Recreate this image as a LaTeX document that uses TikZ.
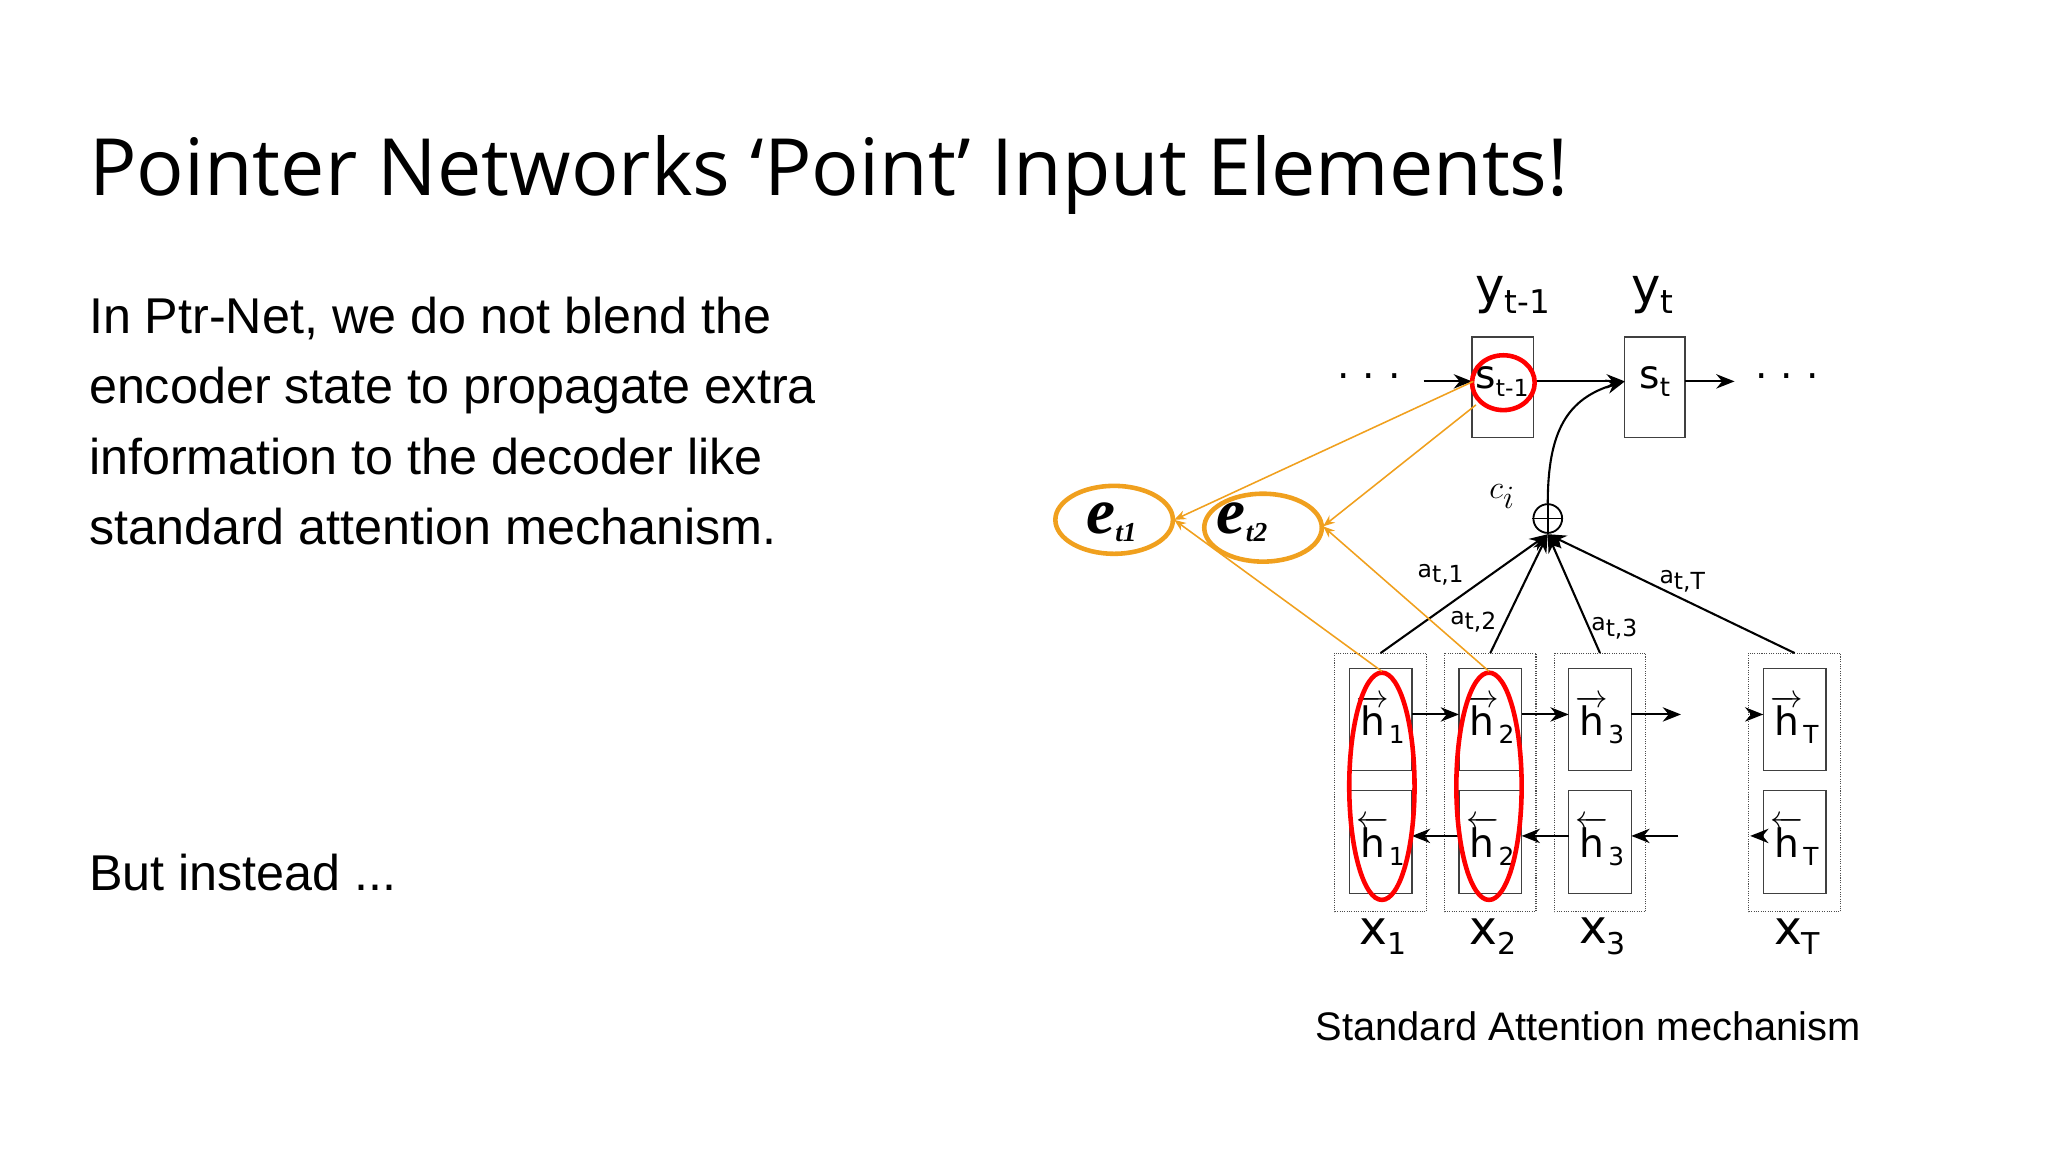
\documentclass[tikz,border=0pt]{standalone}
\usepackage{fontspec}
\setmainfont{Liberation Sans}
\newfontfamily\titlef{Open Sans}
\newfontfamily\djf{DejaVu Sans}
\usetikzlibrary{arrows.meta}
\definecolor{org}{RGB}{240,160,30}
\begin{document}
\begin{tikzpicture}[x=1pt,y=-1pt,
 box/.style={draw=black!75,line width=1pt,inner sep=0},
 dbox/.style={draw=black!70,densely dotted,line width=0.8pt},
 lab/.style={font=\djf\fontsize{30}{32}\selectfont,inner sep=0},
 small/.style={font=\djf\fontsize{18}{20}\selectfont,inner sep=0},
 arr/.style={-{Stealth[length=14pt,width=11pt]},line width=1.6pt},
 oarr/.style={org,line width=1.2pt,-{Stealth[length=9pt,width=7pt]}},
 body/.style={anchor=base west,inner sep=0,font=\fontsize{38.5}{42}\selectfont}]
\useasboundingbox (0,0) rectangle (1568,882);
\node[anchor=base west,inner sep=0,font=\titlef\fontsize{60.5}{64}\selectfont] (title) at (68,150) {Pointer Networks ‘Point’ Input Elements!};
\node[body] (l1) at (68,255) {In Ptr-Net, we do not blend the};
\node[body] (l2) at (68,309) {encoder state to propagate extra};
\node[body] (l3) at (68,363) {information to the decoder like};
\node[body] (l4) at (68,417) {standard attention mechanism.};
\node[body] (l5) at (68,682) {But instead ...};
\node[anchor=base,inner sep=0,font=\fontsize{30.5}{32}\selectfont] (cap) at (1216,797) {Standard Attention mechanism};
% decoder
\draw[box] (1127,258) rectangle (1174,335);
\draw[box] (1244,258) rectangle (1290,335);
\coordinate (s1l) at (1127,292); \coordinate (s1r) at (1174,292);
\coordinate (s2l) at (1244,292); \coordinate (s2r) at (1290,292);
\node[lab] (s1) at (1150,292) {s\raisebox{-6pt}{\fontsize{18}{20}\selectfont t-1}};
\node[lab] (s2) at (1267,292) {s\raisebox{-6pt}{\fontsize{20}{22}\selectfont t}};
\node[lab,font=\djf\fontsize{38}{40}\selectfont] (y1) at (1158,226) {y\raisebox{-8pt}{\fontsize{25}{27}\selectfont t-1}};
\node[lab,font=\djf\fontsize{38}{40}\selectfont] (y2) at (1265,226) {y\raisebox{-8pt}{\fontsize{25}{27}\selectfont t}};
\node[lab] (dl) at (1048,288) {.\hspace{10pt}.\hspace{10pt}.};
\node[lab] (dr) at (1368,288) {.\hspace{10pt}.\hspace{10pt}.};
\coordinate (al) at (1090,292); \coordinate (ar) at (1328,292);
\draw[arr] (al) -- (s1l);
\draw[arr] (s1r) -- (s2l);
\draw[arr] (s2r) -- (ar);
\draw[red,line width=3.5pt] (1151,293) ellipse (24 and 21);
% plus
\node[circle,draw,line width=1.4pt,minimum size=22pt,inner sep=0] (p) at (1185,397) {};
\draw[line width=1.4pt] (p.north) -- (p.south) (p.west) -- (p.east);
\node[inner sep=0,font=\fontsize{34}{36}\selectfont] (ci) at (1150,380) {$c_i$};
\draw[arr] (p.north) .. controls (1185,330) and (1200,305) .. (s2l);
% encoder
\foreach \n/\x/\s in {1/1057/1,2/1141/2,3/1225/3,4/1374/T}{
  \draw[dbox] (\x-35,500) rectangle (\x+35,698);
  \draw[box] (\x-24,512) rectangle (\x+24,590);
  \draw[box] (\x-24,605) rectangle (\x+24,684);
  \coordinate (f\n l) at (\x-24,547); \coordinate (f\n r) at (\x+24,547);
  \coordinate (b\n l) at (\x-24,640); \coordinate (b\n r) at (\x+24,640);
  \coordinate (t\n) at (\x,500);
  \node[lab] (hf\n) at (\x,551) {$\overrightarrow{\mbox{h}}$\raisebox{-6pt}{\fontsize{19}{20}\selectfont\s}};
  \node[lab] (hb\n) at (\x,644) {$\overleftarrow{\mbox{h}}$\raisebox{-6pt}{\fontsize{19}{20}\selectfont\s}};
  \node[lab,font=\djf\fontsize{36}{38}\selectfont] (x\n) at (\x+2,717) {x\raisebox{-8pt}{\fontsize{23}{24}\selectfont\s}};
}
\coordinate (fe) at (1287,547); \coordinate (fs) at (1340,547);
\coordinate (be) at (1285,640); \coordinate (bs) at (1340,640);
\draw[arr] (f1r) -- (f2l); \draw[arr] (f2r) -- (f3l); \draw[arr] (f3r) -- (fe); \draw[arr] (fs) -- (f4l);
\draw[arr] (b2l) -- (b1r); \draw[arr] (b3l) -- (b2r); \draw[arr] (be) -- (b3r); \draw[arr] (b4l) -- (bs);
\coordinate (pb) at (1185,409);
\foreach \n in {1,2,3,4} \draw[arr] (t\n) -- (pb);
\node[small] (a1) at (1103,440) {a\raisebox{-4pt}{t,1}};
\node[small] (a2) at (1128,476) {a\raisebox{-4pt}{t,2}};
\node[small] (a3) at (1236,481) {a\raisebox{-4pt}{t,3}};
\node[small] (a4) at (1288,445) {a\raisebox{-4pt}{t,T}};
\draw[red,line width=3.5pt] (1058,602) ellipse (25 and 87);
\draw[red,line width=3.5pt] (1140,602) ellipse (25 and 87);
% e nodes
\draw[org,line width=3.5pt] (853,398) ellipse (45 and 26);
\draw[org,line width=3.5pt] (967,404) ellipse (45 and 26);
\node[inner sep=0,font=\fontspec{Liberation Serif}\fontsize{50}{52}\selectfont\bfseries\itshape] (et1) at (851,400) {e\raisebox{-6pt}{\fontsize{21}{22}\selectfont t1}};
\node[inner sep=0,font=\fontspec{Liberation Serif}\fontsize{50}{52}\selectfont\bfseries\itshape] (et2) at (951,400) {e\raisebox{-6pt}{\fontsize{21}{22}\selectfont t2}};
\coordinate (e1r) at (899,398); \coordinate (e2r) at (1013,403);
\coordinate (so1) at (1128,292); \coordinate (so2) at (1130,310);
\coordinate (h1t) at (1058,514); \coordinate (h2t) at (1140,514);
\draw[oarr] (so1) -- (e1r);
\draw[oarr] (so2) -- (e2r);
\draw[oarr] (h1t) -- (e1r);
\draw[oarr] (h2t) -- (e2r);
\end{tikzpicture}
\end{document}
